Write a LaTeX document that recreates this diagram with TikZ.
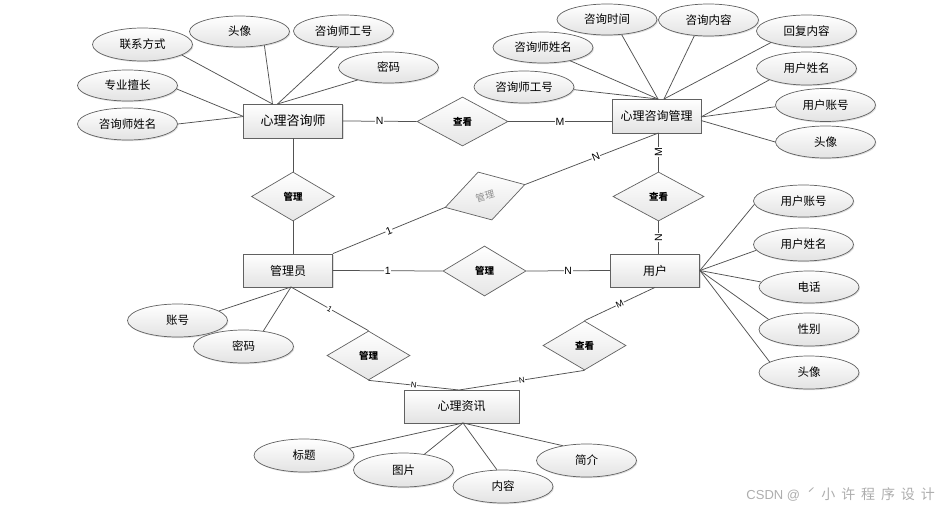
\documentclass[tikz,border=0pt]{standalone}
\usepackage{fontspec}
\setmainfont{Noto Sans CJK SC}
\newfontfamily\latf{Liberation Sans}
\newfontfamily\wmcjk[LetterSpace=42]{Noto Sans CJK SC}
\usetikzlibrary{shapes.geometric,shadows,calc}
\begin{document}
\begin{tikzpicture}[x=1pt,y=-1pt,
  line/.style={draw=black!68, line width=0.75pt},
  shd/.style={drop shadow={shadow xshift=1pt,shadow yshift=-1.2pt,opacity=0.25}},
  ent/.style={rectangle, draw=black!62, line width=0.8pt, top color=white, bottom color=black!11,
    minimum width=89pt, minimum height=33pt, inner sep=0pt, font=\fontsize{12}{14}\selectfont, shd},
  attr/.style={ellipse, draw=black!62, line width=0.7pt, top color=white, bottom color=black!11,
    minimum width=100pt, minimum height=32pt, inner sep=0pt, font=\fontsize{11.5}{13}\selectfont, shd},
  rel/.style={diamond, draw=black!62, line width=0.7pt, top color=white, bottom color=black!10,
    minimum width=83pt, minimum height=49pt, inner sep=0pt, font=\fontsize{9.5}{11}\selectfont\bfseries},
  card/.style={fill=white, inner sep=0.6pt, font=\latf\fontsize{10.5}{11}\selectfont},
  scard/.style={fill=white, inner sep=0.4pt, font=\latf\fontsize{8}{9}\selectfont},
]
\useasboundingbox (0,0) rectangle (936,511);

% entities
\node[ent, minimum width=99pt, minimum height=34pt, font=\fontsize{13}{15}\selectfont] (zxs) at (293,121) {心理咨询师};
\node[ent, minimum height=34pt] (zxgl) at (656.5,116) {心理咨询管理};
\node[ent] (gly) at (288,270.5) {管理员};
\node[ent] (yh) at (655,270.5) {用户};
\node[ent, minimum width=115pt] (zx2) at (461.5,406.5) {心理资讯};

% relationships
\node[rel, minimum width=91pt] (ck1) at (462.5,121.5) {查看};
\node[rel] (gl1) at (293,196.5) {管理};
\node[rel, rotate=16, minimum height=50pt, text=black!45, font=\fontsize{9.5}{11}\selectfont] (gl2) at (485,196) {管理};
\node[rel, minimum width=91pt] (ck2) at (658.5,196.5) {查看};
\node[rel, minimum height=50pt] (gl3) at (484.5,271) {管理};
\node[rel] (gl4) at (368.5,355.5) {管理};
\node[rel] (ck3) at (584.5,345.5) {查看};

% attributes of 心理咨询师
\node[attr, minimum height=33pt] (a1) at (142.5,44.5) {联系方式};
\node[attr, minimum height=31pt] (a2) at (239.5,31.5) {头像};
\node[attr] (a3) at (343.5,31) {咨询师工号};
\node[attr, minimum height=31pt] (a4) at (388.5,67.5) {密码};
\node[attr, minimum height=31pt] (a5) at (127.5,85.5) {专业擅长};
\node[attr] (a6) at (127.5,124) {咨询师姓名};

% attributes of 心理咨询管理
\node[attr, minimum height=31pt] (b1) at (607,19.5) {咨询时间};
\node[attr] (b2) at (708.5,20) {咨询内容};
\node[attr] (b3) at (806.5,31) {回复内容};
\node[attr, minimum height=31pt] (b4) at (543,47.5) {咨询师姓名};
\node[attr] (b5) at (524,87) {咨询师工号};
\node[attr, minimum height=33pt] (b6) at (806.5,68.5) {用户姓名};
\node[attr, minimum height=33pt] (b7) at (825.5,105) {用户账号};
\node[attr] (b8) at (825.5,142) {头像};

% attributes of 用户
\node[attr] (c1) at (803.5,201) {用户账号};
\node[attr, minimum height=33pt] (c2) at (803.5,244.5) {用户姓名};
\node[attr] (c3) at (809,287) {电话};
\node[attr, minimum height=33pt] (c4) at (809,329.5) {性别};
\node[attr, minimum height=33pt] (c5) at (809,372.5) {头像};

% attributes of 管理员
\node[attr, minimum height=33pt] (d1) at (177.5,320.5) {账号};
\node[attr, minimum height=33pt] (d2) at (243.5,346.5) {密码};

% attributes of 心理资讯
\node[attr, minimum height=33pt] (e1) at (304,455.5) {标题};
\node[attr, minimum height=34pt] (e2) at (403.5,470) {图片};
\node[attr, minimum height=33pt] (e3) at (503,486.5) {内容};
\node[attr, minimum height=33pt] (e4) at (586.5,460.5) {简介};

% junction points
\coordinate (zxT1) at (272.5,104);
\coordinate (zxT2) at (277.5,104);
\coordinate (zxL) at (243.5,116.5);
\coordinate (zgT1) at (658,99);
\coordinate (zgT2) at (664,99);
\coordinate (zgR1) at (701,117);
\coordinate (zgR2) at (701,120.5);
\coordinate (zgB) at (658.5,133);
\coordinate (glyB) at (291,287);
\coordinate (zxTop) at (459,390);
\coordinate (zxB) at (463,423);

% attribute connectors
\draw[line] (a1.-15) -- (zxT1);
\draw[line] (a2.-29) -- (zxT1);
\draw[line] (a3.-106) -- (zxT2);
\draw[line] (a4.-158) -- (zxT2);
\draw[line] (a5.-4) -- (zxL);
\draw[line] (a6.east) -- (zxL);

\draw[line] (b1.-46) -- (zgT1);
\draw[line] (b2.-132) -- (zgT2);
\draw[line] (b3.-162) -- (zgT2);
\draw[line] (b4.-26) -- (zgT1);
\draw[line] (b5.-3) -- (zgT1);
\draw[line] (b6.-163) -- (zgR1);
\draw[line] (b7.-178) -- (zgR1);
\draw[line] (b8.west) -- (zgR2);

\draw[line] (c1.-176) -- (yh.east);
\draw[line] (c2.-173) -- (yh.east);
\draw[line] (c3.174) -- (yh.east);
\draw[line] (c4.166) -- (yh.east);
\draw[line] (c5.165) -- (yh.east);

\draw[line] (d1.13) -- (glyB);
\draw[line] (d2.38) -- (glyB);

\draw[line] (e1.9) -- (zxB);
\draw[line] (e2.37) -- (zxB);
\draw[line] (e3.110) -- (zxB);
\draw[line] (e4.148) -- (zxB);

% relationship connectors
\draw[line] (zxs.east) -- (ck1.west) node[card, midway] {N};
\draw[line] (ck1.east) -- (ck1.east -| zxgl.west) node[card, midway] {M};
\draw[line] (zxs.south) -- (gl1.north);
\draw[line] (gl1.south) -- (gl1.south |- gly.north);
\draw[line] (zgB) -- (gl2.east) node[card, pos=0.47, sloped] {N};
\draw[line] (gly.north east) -- (gl2.west) node[card, midway, sloped] {1};
\draw[line] (zgB) -- (ck2.north) node[card, midway, rotate=90] {M};
\draw[line] (ck2.south) -- (ck2.south |- yh.north) node[card, midway, rotate=90] {N};
\draw[line] (gly.east) -- (gl3.west) node[card, midway] {1};
\draw[line] (gl3.east) -- (yh.west) node[card, midway] {N};
\draw[line] (glyB) -- (gl4.north) node[scard, midway, sloped] {1};
\draw[line] (gl4.south) -- (zxTop) node[scard, midway, sloped] {N};
\draw[line] (ck3.north) -- (yh.south) node[card, midway, sloped, font=\latf\fontsize{9}{10}\selectfont] {M};
\draw[line] (ck3.south) -- (zxTop) node[scard, midway, sloped] {N};

% watermark
\node[anchor=east, text=black!32, inner sep=0pt] (wm) at (935,494)
  {\latf\fontsize{13}{15}\selectfont CSDN @\hspace{7pt}\wmcjk\fontsize{14}{16}\selectfont ˊ小许程序设计};
\end{tikzpicture}
\end{document}
